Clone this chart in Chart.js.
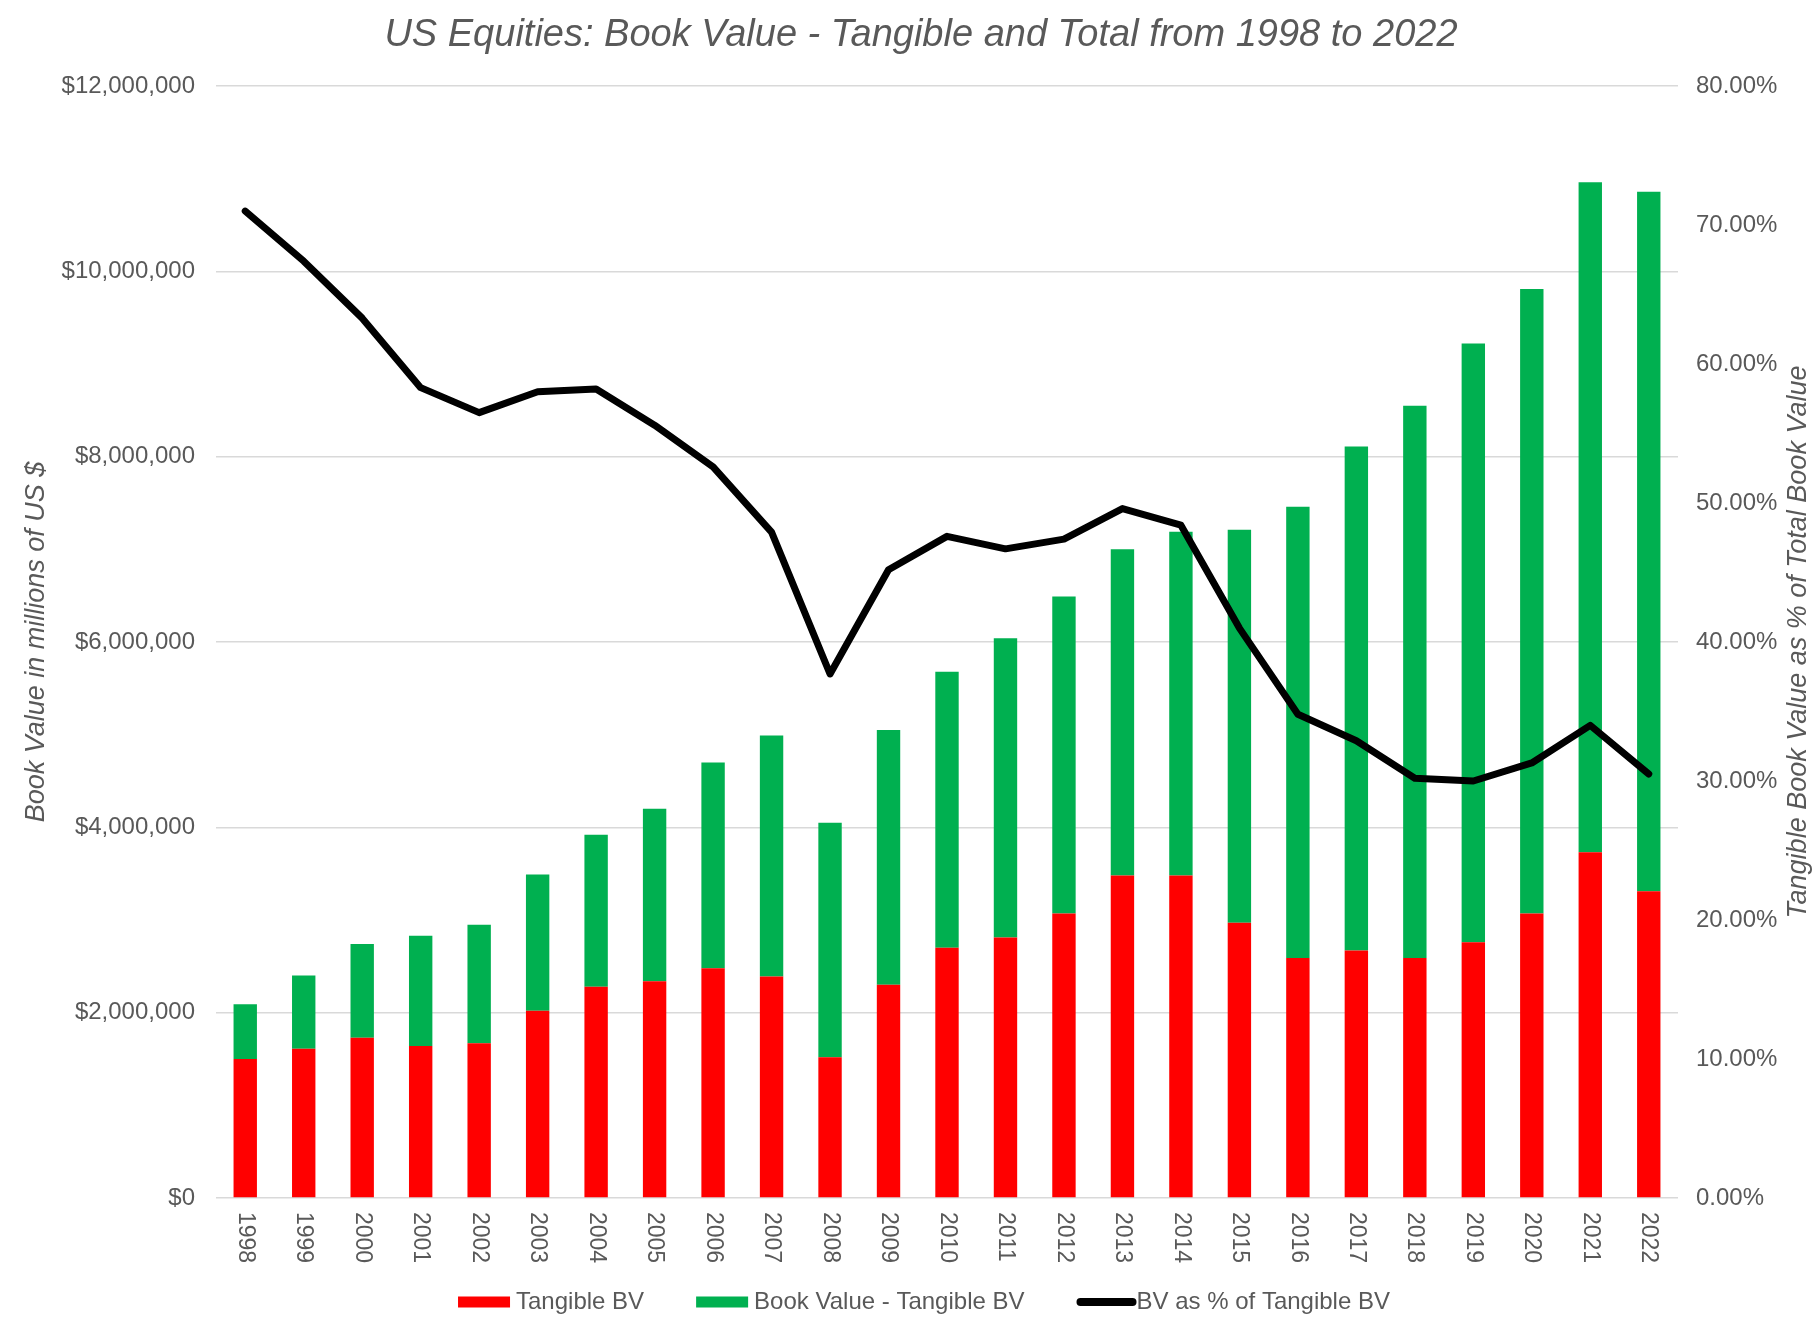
<!DOCTYPE html>
<html>
<head>
<meta charset="utf-8">
<title>US Equities: Book Value - Tangible and Total from 1998 to 2022</title>
<script src="https://cdn.jsdelivr.net/npm/chart.js@4/dist/chart.umd.min.js"></script>
<style>
  html, body { margin: 0; padding: 0; background: #fff; }
  #wrap { width: 1816px; height: 1334px; }
</style>
</head>
<body>
<div id="wrap"><canvas id="bvChart"></canvas></div>
<script>
// data (book values in millions of US $)
const years = ['1998', '1999', '2000', '2001', '2002', '2003', '2004', '2005', '2006', '2007', '2008', '2009', '2010',
               '2011', '2012', '2013', '2014', '2015', '2016', '2017', '2018', '2019', '2020', '2021', '2022'];
const tangibleBV = [1500000, 1610000, 1730000, 1640000, 1670000, 2020000, 2280000, 2340000, 2480000, 2390000, 1520000, 2300000, 2700000,
                    2810000, 3070000, 3480000, 3480000, 2970000, 2590000, 2670000, 2590000, 2760000, 3070000, 3730000, 3310000];
const intangibleBV = [590000, 790000, 1010000, 1190000, 1280000, 1470000, 1640000, 1860000, 2220000, 2600000, 2530000, 2750000, 2980000,
                      3230000, 3420000, 3520000, 3710000, 4240000, 4870000, 5440000, 5960000, 6460000, 6740000, 7230000, 7550000];
const tangiblePct = [71.0, 67.4, 63.3, 58.3, 56.5, 58.0, 58.2, 55.6, 52.6, 47.9, 37.7, 45.2, 47.6,
                     46.7, 47.4, 49.6, 48.4, 41.0, 34.8, 32.9, 30.2, 30.0, 31.3, 34.0, 30.5];

const chartTitle = 'US Equities: Book Value - Tangible and Total from 1998 to 2022';
const leftTitle = 'Book Value in millions of US $';
const rightTitle = 'Tangible Book Value as % of Total Book Value';

const gray = '#595959';
const fontFamily = '"Liberation Sans", Arial, Helvetica, sans-serif';
Chart.defaults.font.family = fontFamily;
Chart.defaults.color = gray;

// year labels run top-to-bottom, the right title bottom-to-top, and the legend is Excel-like
const extraText = {
    id: 'extraText',
    afterDraw(chart) {
        const ctx = chart.ctx;
        const xs = chart.scales.x;
        const area = chart.chartArea;
        ctx.save();
        ctx.fillStyle = gray;

        ctx.font = '23px ' + fontFamily;
        ctx.textAlign = 'left';
        ctx.textBaseline = 'middle';
        years.forEach((yr, i) => {
            ctx.save();
            ctx.translate(xs.getPixelForValue(i), area.bottom + 14);
            ctx.rotate(Math.PI / 2);
            ctx.fillText(yr, 0, 0);
            ctx.restore();
        });

        ctx.font = 'italic 27px ' + fontFamily;
        ctx.textAlign = 'center';
        ctx.save();
        ctx.translate(chart.scales.y1.right - 18, (area.top + area.bottom) / 2);
        ctx.rotate(-Math.PI / 2);
        ctx.fillText(rightTitle, 0, 0);
        ctx.restore();

        // legend
        ctx.font = '24px ' + fontFamily;
        ctx.textAlign = 'left';
        const items = chart.data.datasets.map(ds => {
            const isLine = ds.type === 'line';
            const mark = isLine ? 60 : 58;
            return { ds, isLine, mark, w: mark + ctx.measureText(ds.label).width };
        });
        const gap = 52;
        const total = items.reduce((s, it) => s + it.w, 0) + gap * (items.length - 1);
        let lx = chart.width / 2 + 16 - total / 2;
        const ly = chart.height - 32;
        items.forEach(it => {
            if (it.isLine) {
                ctx.strokeStyle = it.ds.borderColor;
                ctx.lineWidth = 8;
                ctx.lineCap = 'round';
                ctx.beginPath();
                ctx.moveTo(lx + 4, ly);
                ctx.lineTo(lx + 56, ly);
                ctx.stroke();
            } else {
                ctx.fillStyle = it.ds.backgroundColor;
                ctx.fillRect(lx, ly - 5.5, 52, 11);
            }
            ctx.fillStyle = gray;
            ctx.fillText(it.ds.label, lx + it.mark, ly);
            lx += it.w + gap;
        });
        ctx.restore();
    }
};

new Chart(document.getElementById('bvChart'), {
    data: {
        labels: years,
        datasets: [
            {
                type: 'bar',
                label: 'Tangible BV',
                data: tangibleBV,
                backgroundColor: '#ff0000',
                yAxisID: 'y',
                barPercentage: 0.4,
                categoryPercentage: 1,
                order: 1
            },
            {
                type: 'bar',
                label: 'Book Value - Tangible BV',
                data: intangibleBV,
                backgroundColor: '#00b050',
                yAxisID: 'y',
                barPercentage: 0.4,
                categoryPercentage: 1,
                order: 1
            },
            {
                type: 'line',
                label: 'BV as % of Tangible BV',
                data: tangiblePct,
                yAxisID: 'y1',
                borderColor: '#000000',
                backgroundColor: '#000000',
                borderWidth: 7,
                borderJoinStyle: 'round',
                borderCapStyle: 'round',
                pointRadius: 0,
                tension: 0,
                order: 0
            }
        ]
    },
    options: {
        responsive: true,
        maintainAspectRatio: false,
        animation: false,
        // the left 26px pad moves the centred title to where Excel put it
        layout: { padding: { top: 0, left: 26, right: 0, bottom: 60 } },
        plugins: {
            legend: { display: false },
            tooltip: { enabled: false },
            title: {
                display: true,
                text: chartTitle,
                color: gray,
                font: { size: 38, style: 'italic', weight: 'normal', lineHeight: 1.2 },
                padding: { top: 13, bottom: 27.4 }
            }
        },
        scales: {
            x: {
                stacked: true,
                grid: { display: false },
                border: { display: false },
                ticks: { display: false },
                afterFit: s => { s.height = 76; }
            },
            y: {
                stacked: true,
                position: 'left',
                min: 0,
                max: 12000000,
                ticks: {
                    stepSize: 2000000,
                    padding: 21,
                    font: { size: 24 },
                    callback: v => '$' + v.toLocaleString('en-US')
                },
                grid: { color: '#d9d9d9', lineWidth: 1.5, drawTicks: false },
                border: { display: false },
                title: {
                    display: true,
                    text: leftTitle,
                    color: gray,
                    font: { size: 27, style: 'italic', lineHeight: 1.2 },
                    padding: { top: -6, bottom: 0 }
                },
                afterFit: s => { s.width = 190; }
            },
            y1: {
                position: 'right',
                min: 0,
                max: 80,
                ticks: {
                    stepSize: 10,
                    padding: 18,
                    font: { size: 24 },
                    callback: v => v.toFixed(2) + '%'
                },
                grid: { display: false, drawTicks: false },
                border: { display: false },
                afterFit: s => { s.width = 138; }
            }
        }
    },
    plugins: [extraText]
});
</script>
</body>
</html>
